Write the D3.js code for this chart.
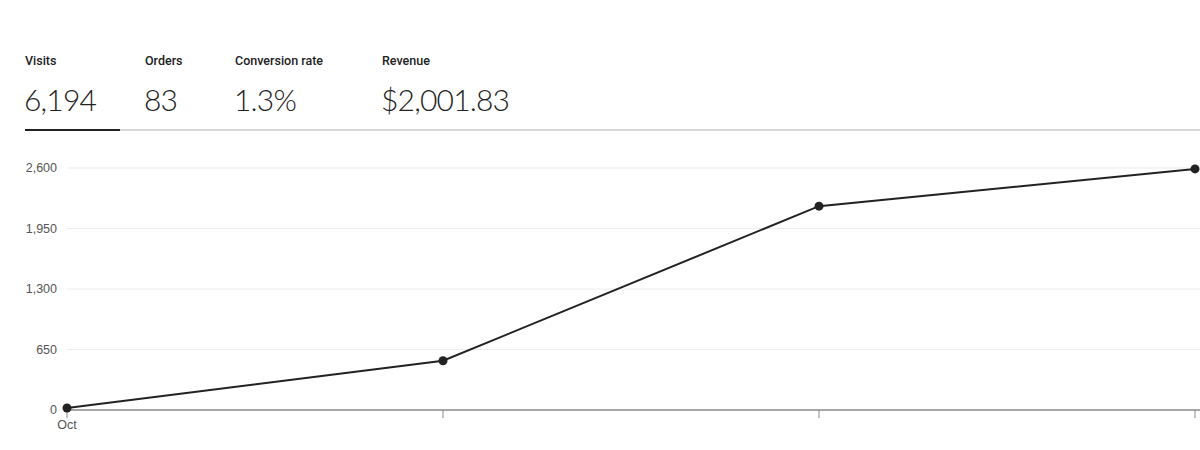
<!DOCTYPE html><html><head><meta charset="utf-8"><script src="https://cdn.jsdelivr.net/npm/d3@7"></script>
<style>body{margin:0;background:#fff;font-family:Arial,"Liberation Sans",sans-serif}</style></head><body><svg id="c" width="1200" height="450"></svg>
<script>
const metricLabels=["Visits","Orders","Conversion rate","Revenue"];
const metricValues=["6,194","83","1.3%","$2,001.83"];
const metricX=[25,145,235,382];
const categories=["Oct","","",""];
const visits=[22,529,2190,2590];
const yTicks=[0,650,1300,1950,2600];
const svg=d3.select("#c");
metricLabels.forEach((l,i)=>{
 svg.append("text").attr("x",metricX[i]).attr("y",65).attr("font-size",12.5).attr("font-family","Roboto").attr("font-weight",500).attr("fill","#222").text(l);
 svg.append("text").attr("x",metricX[i]-1).attr("y",111).attr("font-size",30).attr("letter-spacing",-0.8).attr("font-family","Lato").attr("font-weight",300).attr("fill","#222").text(metricValues[i]);
});
svg.append("line").attr("x1",25).attr("x2",1200).attr("y1",130).attr("y2",130).attr("stroke","#d8d8d8").attr("stroke-width",2);
svg.append("line").attr("x1",25).attr("x2",120).attr("y1",130).attr("y2",130).attr("stroke","#222").attr("stroke-width",2);
const x=d3.scalePoint().domain(d3.range(4)).range([67,1195]);
const y=d3.scaleLinear().domain([0,2600]).range([410,168]);
svg.append("g").selectAll("line").data(yTicks.slice(1)).join("line").attr("x1",67).attr("x2",1200).attr("y1",d=>y(d)).attr("y2",d=>y(d)).attr("stroke","#ececec");
svg.append("g").selectAll("text").data(yTicks).join("text").attr("x",57).attr("y",d=>y(d)+4).attr("text-anchor","end").attr("font-size",12.5).attr("fill","#555").text(d3.format(","));
svg.append("line").attr("x1",67).attr("x2",1200).attr("y1",410).attr("y2",410).attr("stroke","#888").attr("stroke-width",1.5);
svg.append("g").selectAll("line").data(d3.range(4)).join("line").attr("x1",d=>x(d)).attr("x2",d=>x(d)).attr("y1",410).attr("y2",418).attr("stroke","#888");
svg.append("text").attr("x",67).attr("y",429).attr("text-anchor","middle").attr("font-size",12.5).attr("fill","#555").text(categories[0]);
svg.append("path").datum(visits).attr("d",d3.line().x((d,i)=>x(i)).y(d=>y(d))).attr("fill","none").attr("stroke","#222").attr("stroke-width",2);
svg.append("g").selectAll("circle").data(visits).join("circle").attr("cx",(d,i)=>x(i)).attr("cy",d=>y(d)).attr("r",4.5).attr("fill","#222");
</script></body></html>
